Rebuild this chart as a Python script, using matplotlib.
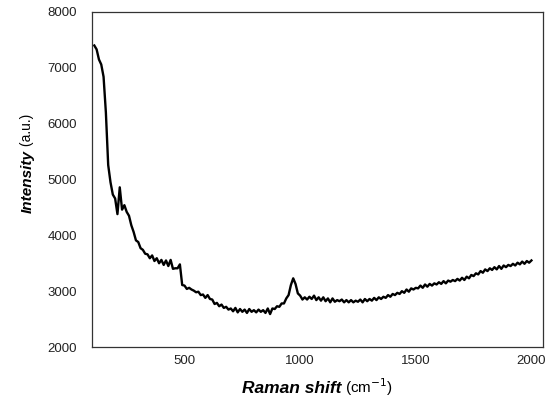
import matplotlib
matplotlib.use("Agg")
import matplotlib.pyplot as plt

plt.rcParams['font.family'] = ['Liberation Sans', 'DejaVu Sans']

raman_shift = list(range(110, 2001, 10))
intensity = [
    7400, 7330, 7150, 7060, 6840, 6200, 5260, 4950, 4730, 4660,   # 110-200
    4380, 4860, 4460, 4540, 4420, 4350, 4180, 4060, 3910, 3880,   # 210-300
    3770, 3740, 3670, 3660, 3590, 3640, 3540, 3590, 3500, 3560,   # 310-400
    3470, 3550, 3450, 3560, 3400, 3410, 3410, 3480, 3110, 3100,   # 410-500
    3040, 3060, 3030, 3010, 2980, 2990, 2930, 2940, 2880, 2930,   # 510-600
    2860, 2850, 2770, 2790, 2730, 2760, 2700, 2720, 2670, 2690,   # 610-700
    2640, 2700, 2620, 2680, 2630, 2670, 2610, 2680, 2630, 2660,   # 710-800
    2620, 2670, 2630, 2660, 2610, 2690, 2590, 2690, 2680, 2730,   # 810-900
    2720, 2780, 2780, 2870, 2930, 3110, 3230, 3130, 2960, 2920,   # 910-1000
    2850, 2890, 2850, 2900, 2860, 2920, 2840, 2890, 2830, 2890,   # 1010-1100
    2820, 2870, 2800, 2870, 2810, 2840, 2820, 2850, 2800, 2840,   # 1110-1200
    2800, 2840, 2800, 2830, 2810, 2850, 2800, 2860, 2820, 2860,   # 1210-1300
    2830, 2880, 2840, 2890, 2860, 2900, 2880, 2930, 2900, 2950,   # 1310-1400
    2930, 2970, 2950, 3000, 2970, 3030, 2990, 3050, 3030, 3060,   # 1410-1500
    3050, 3100, 3060, 3120, 3080, 3130, 3100, 3140, 3120, 3160,   # 1510-1600
    3130, 3180, 3140, 3190, 3170, 3200, 3180, 3220, 3190, 3240,   # 1610-1700
    3200, 3260, 3230, 3290, 3270, 3320, 3300, 3360, 3330, 3390,   # 1710-1800
    3360, 3410, 3380, 3430, 3390, 3450, 3400, 3460, 3430, 3470,   # 1810-1900
    3450, 3490, 3460, 3510, 3480, 3530, 3490, 3540, 3510, 3550,   # 1910-2000
]

x_ticks = [500, 1000, 1500, 2000]
y_ticks = [2000, 3000, 4000, 5000, 6000, 7000, 8000]

W, H = 550, 400
fig = plt.figure(figsize=(W / 100, H / 100), dpi=100)
ax = fig.add_axes([92 / W, 53 / H, 451 / W, 335 / H])
ax.plot(raman_shift, intensity, color='black', lw=1.7)
ax.set_xlim(100, 2050)
ax.set_ylim(2000, 8000)
ax.set_xticks(x_ticks)
ax.set_yticks(y_ticks)
ax.tick_params(length=0, labelsize=9.5, colors='#222222')
ax.tick_params(axis='y', pad=11)
ax.tick_params(axis='x', pad=6)
for s in ax.spines.values():
    s.set_color('#333333')
    s.set_linewidth(0.9)

# x label: "Raman shift (cm^-1)"
t1 = fig.text(0, 7 / H, "Raman shift", fontsize=12.5, fontweight='bold',
              fontstyle='italic', va='baseline', ha='left')
t2 = fig.text(0, 7 / H, " (cm$^{-1}$)", fontsize=11, va='baseline', ha='left')
# y label: "Intensity (a.u.)"
t3 = fig.text(31.5 / W, (H - 213) / H, "Intensity", fontsize=11, fontweight='bold',
              fontstyle='italic', rotation=90, rotation_mode='anchor',
              ha='left', va='baseline')
t4 = fig.text(31.5 / W, 0, " (a.u.)", fontsize=10, rotation=90,
              rotation_mode='anchor', ha='left', va='baseline')

fig.canvas.draw()
r = fig.canvas.get_renderer()
w1 = t1.get_window_extent(r).width
w2 = t2.get_window_extent(r).width
start = 317.5 - (w1 + w2) / 2
t1.set_x(start / W)
t2.set_x((start + w1) / W)
h3 = t3.get_window_extent(r).height
t4.set_y(((H - 213) + h3) / H)

fig.savefig("out.png", dpi=100)
